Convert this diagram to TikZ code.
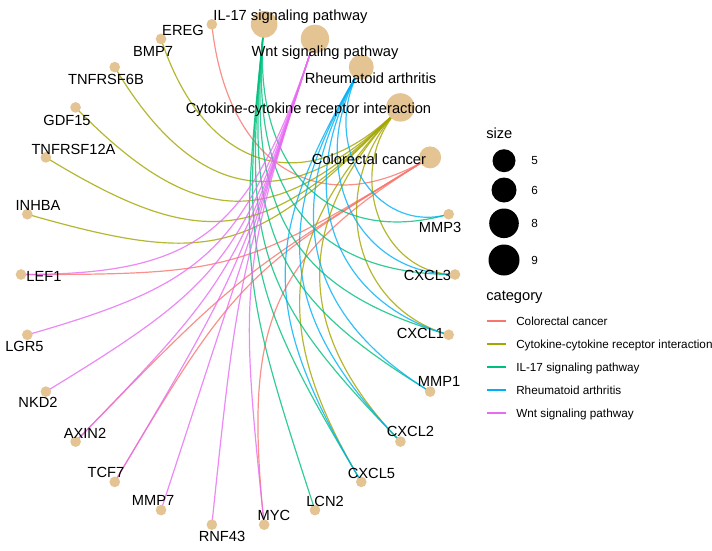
\documentclass[tikz,border=0pt]{standalone}
\usepackage{fontspec}
\setmainfont{Liberation Sans}
\usepackage{tikz}
\definecolor{crc}{HTML}{F8766D}
\definecolor{ccr}{HTML}{A3A500}
\definecolor{ilc}{HTML}{00BF7D}
\definecolor{rac}{HTML}{00B0F6}
\definecolor{wntc}{HTML}{E76BF3}
\definecolor{nodetan}{HTML}{E5C494}
\tikzset{
  catnode/.style={circle, fill=nodetan, inner sep=0pt, minimum size=#1},
  genenode/.style={circle, fill=nodetan, inner sep=0pt, minimum size=8pt},
  cnetline/.style={draw=#1, line width=0.9pt, draw opacity=0.8},
  keyline/.style={draw=#1, line width=1.1pt},
  lbl/.style={inner sep=0pt, anchor=base, font=\fontsize{11}{13}\selectfont},
  legtext/.style={inner sep=0pt, anchor=base west, font=\fontsize{8.8}{10}\selectfont},
  legtitle/.style={inner sep=0pt, anchor=base west, font=\fontsize{11}{13}\selectfont},
  sizekey/.style={circle, fill=black, inner sep=0pt, minimum size=#1}
}
\pgfdeclarelayer{edgelayer}
\pgfsetlayers{edgelayer,main}
% arc between two nodes of the circular layout, bent towards the centre
\newcommand{\cnetedge}[3]{%
  \pgfmathsetmacro{\angA}{83.077-13.846*\csname cnetidx#1\endcsname}%
  \pgfmathsetmacro{\angB}{83.077-13.846*\csname cnetidx#2\endcsname}%
  \pgfmathsetmacro{\ctrlR}{1-sin(abs(\angA-\angB)/2)}%
  \draw[cnetline=#3] (#1.center) .. controls (\angA:\ctrlR) and (\angB:\ctrlR) .. (#2.center);%
}
\begin{document}
\begin{tikzpicture}[x=0.75pt, y=-0.75pt]
    \useasboundingbox (0,0) rectangle (712,550);
    % circular layout
    \begin{scope}[shift={(178.5pt,-205.875pt)}, x=162.75pt, y=189pt]
        \foreach \name/\idx/\diam in {IL17/0/20pt, Wnt/1/21.3pt, RA/2/18.75pt, CCR/3/21.3pt, CRC/4/16.5pt}{
            \node[catnode=\diam] (\name) at ({83.077-13.846*\idx}:1) {};
            \expandafter\xdef\csname cnetidx\name\endcsname{\idx}
        }
        \foreach \name/\idx in {MMP3/5, CXCL3/6, CXCL1/7, MMP1/8, CXCL2/9, CXCL5/10, LCN2/11, MYC/12, RNF43/13, MMP7/14, TCF7/15, AXIN2/16, NKD2/17, LGR5/18, LEF1/19, INHBA/20, TNFRSF12A/21, GDF15/22, TNFRSF6B/23, BMP7/24, EREG/25}{
            \node[genenode] (\name) at ({83.077-13.846*\idx}:1) {};
            \expandafter\xdef\csname cnetidx\name\endcsname{\idx}
        }
        \begin{pgfonlayer}{edgelayer}
            \foreach \cat/\gene/\col in {
                CRC/EREG/crc, CRC/LEF1/crc, CRC/AXIN2/crc, CRC/TCF7/crc, CRC/MYC/crc,
                CCR/BMP7/ccr, CCR/TNFRSF6B/ccr, CCR/GDF15/ccr, CCR/TNFRSF12A/ccr, CCR/INHBA/ccr,
                CCR/CXCL3/ccr, CCR/CXCL1/ccr, CCR/CXCL2/ccr, CCR/CXCL5/ccr,
                IL17/MMP3/ilc, IL17/CXCL3/ilc, IL17/CXCL1/ilc, IL17/MMP1/ilc, IL17/CXCL2/ilc,
                IL17/CXCL5/ilc, IL17/LCN2/ilc,
                RA/MMP3/rac, RA/CXCL3/rac, RA/CXCL1/rac, RA/MMP1/rac, RA/CXCL2/rac, RA/CXCL5/rac,
                Wnt/LEF1/wntc, Wnt/LGR5/wntc, Wnt/NKD2/wntc, Wnt/AXIN2/wntc, Wnt/TCF7/wntc,
                Wnt/MMP7/wntc, Wnt/RNF43/wntc, Wnt/MYC/wntc}{
                \cnetedge{\cat}{\gene}{\col}
            }
        \end{pgfonlayer}
    \end{scope}
    % labels
    \node[lbl] (IL17-lab) at (290.5,20.7) {IL-17 signaling pathway};
    \node[lbl] (Wnt-lab) at (325,56) {Wnt signaling pathway};
    \node[lbl] (RA-lab) at (370.5,83.3) {Rheumatoid arthritis};
    \node[lbl] (CCR-lab) at (308.5,113.3) {Cytokine-cytokine receptor interaction};
    \node[lbl] (CRC-lab) at (369,164.3) {Colorectal cancer};
    \foreach \name/\lx/\ly in {EREG/183/35, BMP7/153/56, TNFRSF6B/106/84, GDF15/67/125,
        TNFRSF12A/73.5/154, INHBA/38/210, LEF1/44/281, LGR5/24.5/351.7, NKD2/38/407.7,
        AXIN2/85/438, TCF7/106/477.7, MMP7/153/505, RNF43/222/541, MYC/274/520,
        LCN2/325/506, CXCL5/371.5/478.3, CXCL2/410.5/436.7, MMP1/439/386.7,
        CXCL1/420.5/338.3, CXCL3/427.5/280.7, MMP3/440/232.7}{
        \node[lbl] (\name-lab) at (\lx,\ly) {\name};
    }
    % legend: size
    \node[legtitle] (size-title) at (486,138) {size};
    \foreach \val/\yy/\diam in {5/160.7/17.25pt, 6/190/18.75pt, 8/223.3/22.2pt, 9/260/23.25pt}{
        \node[sizekey=\diam] (key\val) at (504,\yy) {};
        \node[legtext] (key\val-lab) at (531,\yy+4.2) {\val};
    }
    % legend: category
    \node[legtitle] (cat-title) at (486,300.7) {category};
    \foreach \col/\yy/\txt in {crc/321/Colorectal cancer, ccr/344/Cytokine-cytokine receptor interaction,
        ilc/367/IL-17 signaling pathway, rac/390/Rheumatoid arthritis, wntc/413/Wnt signaling pathway}{
        \coordinate (\col-a) at (487,\yy);
        \coordinate (\col-b) at (506,\yy);
        \draw[keyline=\col] (\col-a) -- (\col-b);
        \node[legtext] (\col-lab) at (516,\yy+4.5) {\txt};
    }
\end{tikzpicture}
\end{document}
